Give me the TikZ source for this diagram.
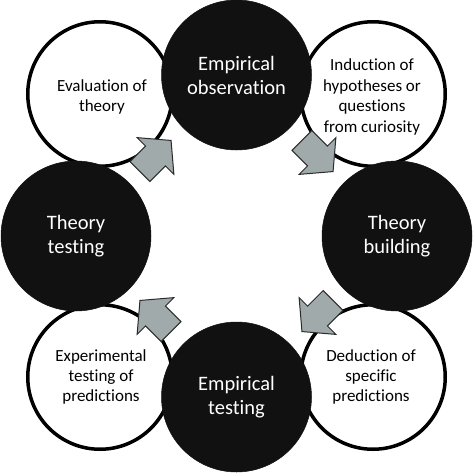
\documentclass[tikz,border=0pt]{standalone}
\usepackage{fontspec}
\setmainfont{Carlito}[Ligatures={NoCommon,NoContextual}, Contextuals=NoAlternate]
\definecolor{nearblack}{HTML}{111111}
\definecolor{arrowgray}{HTML}{A0AAAA}
\definecolor{arrowedge}{HTML}{2B2B2B}
\begin{document}
\begin{tikzpicture}[x=1pt,y=1pt,
  whitecirc/.style={circle, draw=black, line width=3.5pt, fill=white, minimum size=144.5pt, inner sep=0pt},
  whitetext/.style={inner sep=0pt, align=center, font=\fontsize{17}{20.4}\selectfont, text=black},
  blackcirc/.style={circle, draw=nearblack, fill=nearblack, line width=0.5pt, minimum size=150pt, inner sep=0pt, align=center, font=\fontsize{20.5}{24}\selectfont, text=white},
  arrowbody/.style={fill=arrowgray, draw=arrowedge, line width=1pt, line join=miter},
  blockarrow/.pic={\draw[arrowbody] (-22,-14) -- (0,-14) -- (0,-26) -- (22,0) -- (0,26) -- (0,14) -- (-22,14) -- cycle;}]
\useasboundingbox (0,0) rectangle (474,-474);
\fill[white] (0,0) rectangle (474,-474);
% white circles
\node[whitecirc] (evaluation) at (100,-94) {};
\node[whitecirc] (induction) at (373,-94) {};
\node[whitecirc] (experimental) at (100,-377) {};
\node[whitecirc] (deduction) at (373,-377) {};
\node[whitetext] (evaluationtext) at (102,-97) {Evaluation of\\theory};
\node[whitetext] (inductiontext) at (372,-97) {Induction of\\hypotheses or\\questions\\from curiosity};
\node[whitetext] (experimentaltext) at (101,-377) {Experimental\\testing of\\predictions};
\node[whitetext] (deductiontext) at (371,-377) {Deduction of\\specific\\predictions};
% black circles
\node[blackcirc] (observation) at (236.5,-75) {Empirical\\observation};
\node[blackcirc] (testing) at (76,-236) {Theory\\testing};
\node[blackcirc] (building) at (397,-236) {Theory\\building};
\node[blackcirc] (emptesting) at (236.5,-397) {Empirical\\testing};
% block arrows
\pic[rotate=45] at (155.5,-156) {blockarrow};
\pic[rotate=-45] at (317.5,-156) {blockarrow};
\pic[rotate=-135] at (317.5,-316) {blockarrow};
\pic[rotate=135] at (155.5,-316) {blockarrow};
\end{tikzpicture}
\end{document}
